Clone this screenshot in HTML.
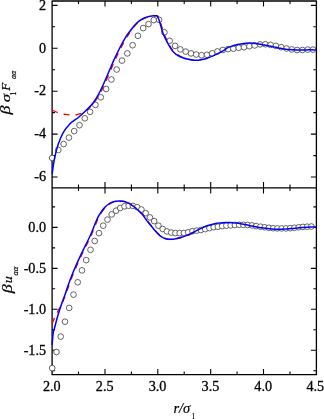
<!DOCTYPE html>
<html><head><meta charset="utf-8"><title>plot</title>
<style>html,body{margin:0;padding:0;background:#fff}svg{display:block}</style></head>
<body>
<svg width="324" height="419" viewBox="0 0 324 419">
<rect width="324" height="419" fill="#fff"/>
<path d="M52.1 1.0 H316.4M52.1 187.8 H316.4M52.1 374.6 H316.4M52.1 0.4 V375.2M316.4 0.4 V375.2" stroke="#000" stroke-width="1.3" fill="none"/>
<path d="M78.5 1.0 v3.0M78.5 184.6 v6.4M78.5 374.6 v-3.0M105.0 1.0 v5.5M105.0 182.1 v11.4M105.0 374.6 v-5.5M131.4 1.0 v3.0M131.4 184.6 v6.4M131.4 374.6 v-3.0M157.8 1.0 v5.5M157.8 182.1 v11.4M157.8 374.6 v-5.5M184.2 1.0 v3.0M184.2 184.6 v6.4M184.2 374.6 v-3.0M210.7 1.0 v5.5M210.7 182.1 v11.4M210.7 374.6 v-5.5M237.1 1.0 v3.0M237.1 184.6 v6.4M237.1 374.6 v-3.0M263.5 1.0 v5.5M263.5 182.1 v11.4M263.5 374.6 v-5.5M290.0 1.0 v3.0M290.0 184.6 v6.4M290.0 374.6 v-3.0M52.1 5.4 h5.5M316.4 5.4 h-5.5M52.1 26.8 h3.0M316.4 26.8 h-3.0M52.1 48.3 h5.5M316.4 48.3 h-5.5M52.1 69.8 h3.0M316.4 69.8 h-3.0M52.1 91.2 h5.5M316.4 91.2 h-5.5M52.1 112.6 h3.0M316.4 112.6 h-3.0M52.1 134.1 h5.5M316.4 134.1 h-5.5M52.1 155.6 h3.0M316.4 155.6 h-3.0M52.1 177.0 h5.5M316.4 177.0 h-5.5M52.1 206.9 h3.0M316.4 206.9 h-3.0M52.1 227.4 h5.5M316.4 227.4 h-5.5M52.1 247.9 h3.0M316.4 247.9 h-3.0M52.1 268.4 h5.5M316.4 268.4 h-5.5M52.1 288.8 h3.0M316.4 288.8 h-3.0M52.1 309.3 h5.5M316.4 309.3 h-5.5M52.1 329.8 h3.0M316.4 329.8 h-3.0M52.1 350.2 h5.5M316.4 350.2 h-5.5M52.1 370.7 h3.0M316.4 370.7 h-3.0" stroke="#000" stroke-width="1.1" fill="none"/>
<g fill="#fff" stroke="#3a3a3a" stroke-width="0.78">
<circle cx="52.2" cy="158.0" r="2.85"/>
<circle cx="58.3" cy="150.0" r="2.85"/>
<circle cx="63.6" cy="144.0" r="2.85"/>
<circle cx="68.9" cy="137.6" r="2.85"/>
<circle cx="74.2" cy="131.1" r="2.85"/>
<circle cx="79.5" cy="125.2" r="2.85"/>
<circle cx="84.8" cy="118.3" r="2.85"/>
<circle cx="90.1" cy="111.8" r="2.85"/>
<circle cx="95.4" cy="104.9" r="2.85"/>
<circle cx="100.8" cy="97.3" r="2.85"/>
<circle cx="106.1" cy="89.0" r="2.85"/>
<circle cx="111.4" cy="79.5" r="2.85"/>
<circle cx="116.7" cy="69.5" r="2.85"/>
<circle cx="122.0" cy="60.6" r="2.85"/>
<circle cx="127.3" cy="53.4" r="2.85"/>
<circle cx="132.6" cy="45.2" r="2.85"/>
<circle cx="137.9" cy="35.8" r="2.85"/>
<circle cx="143.2" cy="28.1" r="2.85"/>
<circle cx="148.5" cy="24.1" r="2.85"/>
<circle cx="153.8" cy="20.1" r="2.85"/>
<circle cx="159.1" cy="19.8" r="2.85"/>
<circle cx="164.4" cy="32.3" r="2.85"/>
<circle cx="169.7" cy="40.8" r="2.85"/>
<circle cx="175.1" cy="45.9" r="2.85"/>
<circle cx="180.4" cy="49.4" r="2.85"/>
<circle cx="185.7" cy="51.6" r="2.85"/>
<circle cx="191.0" cy="53.4" r="2.85"/>
<circle cx="196.3" cy="54.5" r="2.85"/>
<circle cx="201.6" cy="55.2" r="2.85"/>
<circle cx="206.9" cy="54.8" r="2.85"/>
<circle cx="212.2" cy="53.3" r="2.85"/>
<circle cx="217.5" cy="51.4" r="2.85"/>
<circle cx="222.8" cy="50.0" r="2.85"/>
<circle cx="228.1" cy="49.1" r="2.85"/>
<circle cx="233.4" cy="48.7" r="2.85"/>
<circle cx="238.7" cy="47.8" r="2.85"/>
<circle cx="244.0" cy="47.2" r="2.85"/>
<circle cx="249.4" cy="46.2" r="2.85"/>
<circle cx="254.7" cy="45.4" r="2.85"/>
<circle cx="260.0" cy="44.4" r="2.85"/>
<circle cx="265.3" cy="44.2" r="2.85"/>
<circle cx="270.6" cy="44.9" r="2.85"/>
<circle cx="275.9" cy="45.9" r="2.85"/>
<circle cx="281.2" cy="47.2" r="2.85"/>
<circle cx="286.5" cy="48.5" r="2.85"/>
<circle cx="291.8" cy="49.4" r="2.85"/>
<circle cx="297.1" cy="50.0" r="2.85"/>
<circle cx="302.4" cy="50.0" r="2.85"/>
<circle cx="307.7" cy="49.6" r="2.85"/>
<circle cx="313.0" cy="49.6" r="2.85"/>
<circle cx="52.2" cy="368.1" r="2.85"/>
<circle cx="56.5" cy="352.0" r="2.85"/>
<circle cx="60.7" cy="336.6" r="2.85"/>
<circle cx="65.0" cy="321.7" r="2.85"/>
<circle cx="69.2" cy="307.9" r="2.85"/>
<circle cx="73.5" cy="294.6" r="2.85"/>
<circle cx="77.7" cy="282.3" r="2.85"/>
<circle cx="82.0" cy="270.4" r="2.85"/>
<circle cx="86.2" cy="260.1" r="2.85"/>
<circle cx="90.5" cy="249.8" r="2.85"/>
<circle cx="94.7" cy="241.0" r="2.85"/>
<circle cx="99.0" cy="233.1" r="2.85"/>
<circle cx="103.2" cy="225.7" r="2.85"/>
<circle cx="107.5" cy="219.6" r="2.85"/>
<circle cx="111.7" cy="214.4" r="2.85"/>
<circle cx="116.0" cy="210.7" r="2.85"/>
<circle cx="120.2" cy="208.0" r="2.85"/>
<circle cx="124.5" cy="206.3" r="2.85"/>
<circle cx="128.7" cy="205.7" r="2.85"/>
<circle cx="132.9" cy="205.9" r="2.85"/>
<circle cx="137.2" cy="207.2" r="2.85"/>
<circle cx="141.4" cy="209.5" r="2.85"/>
<circle cx="145.7" cy="213.2" r="2.85"/>
<circle cx="149.9" cy="217.4" r="2.85"/>
<circle cx="154.2" cy="221.1" r="2.85"/>
<circle cx="158.4" cy="225.7" r="2.85"/>
<circle cx="162.7" cy="229.0" r="2.85"/>
<circle cx="166.9" cy="231.4" r="2.85"/>
<circle cx="171.2" cy="232.6" r="2.85"/>
<circle cx="175.4" cy="233.1" r="2.85"/>
<circle cx="179.7" cy="233.1" r="2.85"/>
<circle cx="183.9" cy="233.0" r="2.85"/>
<circle cx="188.2" cy="232.3" r="2.85"/>
<circle cx="192.4" cy="231.2" r="2.85"/>
<circle cx="196.7" cy="230.6" r="2.85"/>
<circle cx="200.9" cy="230.0" r="2.85"/>
<circle cx="205.2" cy="229.1" r="2.85"/>
<circle cx="209.4" cy="228.1" r="2.85"/>
<circle cx="213.7" cy="227.2" r="2.85"/>
<circle cx="217.9" cy="226.7" r="2.85"/>
<circle cx="222.2" cy="226.1" r="2.85"/>
<circle cx="226.4" cy="225.7" r="2.85"/>
<circle cx="230.7" cy="225.4" r="2.85"/>
<circle cx="234.9" cy="225.0" r="2.85"/>
<circle cx="239.2" cy="224.8" r="2.85"/>
<circle cx="243.4" cy="224.8" r="2.85"/>
<circle cx="247.7" cy="225.0" r="2.85"/>
<circle cx="251.9" cy="225.4" r="2.85"/>
<circle cx="256.2" cy="226.1" r="2.85"/>
<circle cx="260.4" cy="226.7" r="2.85"/>
<circle cx="264.7" cy="227.3" r="2.85"/>
<circle cx="268.9" cy="227.8" r="2.85"/>
<circle cx="273.2" cy="228.2" r="2.85"/>
<circle cx="277.4" cy="228.4" r="2.85"/>
<circle cx="281.7" cy="228.4" r="2.85"/>
<circle cx="285.9" cy="228.4" r="2.85"/>
<circle cx="290.2" cy="228.2" r="2.85"/>
<circle cx="294.4" cy="227.8" r="2.85"/>
<circle cx="298.7" cy="227.3" r="2.85"/>
<circle cx="302.9" cy="226.9" r="2.85"/>
<circle cx="307.2" cy="226.7" r="2.85"/>
<circle cx="311.4" cy="226.5" r="2.85"/>
</g>
<g fill="none" stroke-width="1.5" stroke-linejoin="round">
<path d="M52.2 110.2C53.2 110.6 55.8 111.9 58.0 112.6C60.2 113.3 63.0 113.9 65.3 114.3C67.6 114.7 70.0 115.0 72.0 115.0C74.0 115.0 75.4 114.9 77.0 114.6C78.6 114.3 80.0 114.0 81.5 113.4C83.0 112.8 84.5 112.0 86.0 110.8C87.5 109.6 89.1 108.1 90.6 106.5C92.1 104.9 93.5 103.5 95.2 101.2C96.9 98.9 99.2 95.0 100.6 92.5C102.0 90.0 102.7 88.1 103.7 86.0C104.7 83.9 105.5 82.1 106.4 80.0C107.3 77.9 108.3 75.5 109.3 73.2C110.3 70.9 111.3 68.5 112.3 66.2C113.3 63.9 114.4 61.4 115.4 59.1C116.5 56.8 117.5 54.6 118.6 52.5C119.7 50.4 120.7 48.2 121.8 46.2C122.9 44.2 124.0 42.0 125.0 40.2C126.0 38.4 127.0 36.8 128.0 35.3C128.9 33.8 129.5 32.9 130.7 31.2C131.9 29.5 133.7 26.9 135.3 25.2C136.8 23.5 138.4 22.1 140.0 20.9C141.6 19.7 143.1 18.9 144.6 18.2C146.1 17.5 147.7 17.0 149.2 16.6C150.7 16.2 152.5 16.0 153.8 15.8C155.1 15.7 156.1 15.5 156.9 15.7C157.7 15.9 158.0 16.1 158.5 17.0C159.0 17.9 159.5 19.3 160.0 20.8C160.5 22.3 161.0 24.3 161.6 26.2C162.2 28.1 162.7 30.4 163.4 32.4C164.1 34.4 165.0 36.3 166.0 38.4C167.0 40.5 168.2 42.9 169.4 45.0C170.6 47.1 171.9 49.4 173.1 50.9C174.3 52.4 175.6 53.4 176.8 54.3C178.0 55.2 179.3 55.9 180.5 56.5C181.7 57.1 183.0 57.6 184.2 58.0C185.4 58.4 186.7 58.8 187.9 59.1C189.1 59.4 190.4 59.6 191.6 59.8C192.8 60.0 194.1 60.1 195.3 60.2C196.5 60.3 198.4 60.2 199.0 60.2" stroke="#f00" stroke-width="1.35" stroke-dasharray="6 6"/>
<path d="M52.1 323.5C52.5 322.6 53.6 320.0 54.5 318.1C55.4 316.2 56.7 313.7 57.6 311.9C58.5 310.1 59.2 308.9 60.1 307.2C61.0 305.5 61.9 303.5 62.8 301.5C63.7 299.5 64.7 297.2 65.6 295.0C66.5 292.8 66.7 291.7 68.0 288.0C69.3 284.3 71.7 277.6 73.6 273.0C75.5 268.4 77.4 264.1 79.2 260.1C81.0 256.1 83.0 252.0 84.6 248.8C86.1 245.6 87.3 243.6 88.5 241.0C89.7 238.4 90.8 236.2 92.0 233.5C93.2 230.8 94.5 227.2 95.6 224.5C96.7 221.8 97.5 219.6 98.6 217.4C99.7 215.2 100.9 213.2 102.1 211.5C103.3 209.8 104.5 208.5 105.7 207.3C106.9 206.1 108.1 205.0 109.3 204.2C110.5 203.4 111.6 202.8 112.8 202.3C114.0 201.8 115.1 201.6 116.3 201.4C117.5 201.2 118.6 201.2 119.8 201.2C121.0 201.2 122.2 201.2 123.5 201.4C124.8 201.6 126.0 202.1 127.3 202.6C128.6 203.1 129.8 203.7 131.1 204.5C132.4 205.3 133.6 206.2 134.9 207.2C136.2 208.2 137.5 209.3 138.7 210.4C139.9 211.5 141.2 212.8 142.3 214.0C143.3 215.2 144.2 216.2 145.0 217.3C145.8 218.4 146.4 219.4 147.4 220.8C148.4 222.1 149.9 223.9 151.2 225.4C152.4 226.9 153.7 228.6 154.9 230.0C156.1 231.4 157.4 232.9 158.6 234.1C159.8 235.3 161.0 236.2 162.2 237.0C163.4 237.8 164.5 238.3 165.7 238.7C166.8 239.1 167.9 239.3 169.1 239.4C170.2 239.5 171.4 239.6 172.6 239.5C173.8 239.4 175.1 239.1 176.3 238.9C177.5 238.6 178.8 238.3 180.0 238.0C181.2 237.7 182.4 237.3 183.7 236.9C184.9 236.5 186.2 236.1 187.5 235.6C188.8 235.1 190.0 234.4 191.2 233.8C192.4 233.2 193.7 232.6 194.9 232.0C196.1 231.4 198.0 230.4 198.6 230.1" stroke="#f00" stroke-width="1.35" stroke-dasharray="6 6"/>
<path d="M52.1 174.0C52.5 171.4 53.5 163.7 54.5 158.7C55.5 153.7 56.8 148.3 58.3 144.0C59.8 139.7 61.3 135.9 63.2 132.6C65.1 129.3 67.1 126.7 69.8 124.0C72.5 121.3 76.1 119.4 79.2 116.7C82.3 114.0 86.0 110.5 88.5 108.0C91.0 105.5 92.2 104.3 94.0 101.7C95.8 99.1 98.1 95.1 99.5 92.5C100.9 89.9 101.6 88.1 102.6 86.0C103.6 83.9 104.4 82.1 105.3 80.0C106.2 77.9 107.2 75.5 108.2 73.2C109.2 70.9 110.2 68.5 111.2 66.2C112.2 63.9 113.2 61.4 114.3 59.1C115.3 56.8 116.4 54.6 117.5 52.5C118.6 50.4 119.6 48.2 120.7 46.2C121.8 44.2 122.9 42.1 123.9 40.2C125.0 38.3 126.0 36.5 127.0 35.0C128.0 33.5 128.7 32.8 130.0 31.2C131.3 29.6 133.0 26.9 134.6 25.2C136.2 23.5 137.8 22.1 139.3 20.9C140.9 19.7 142.4 18.9 143.9 18.2C145.4 17.5 147.0 17.0 148.5 16.6C150.0 16.2 151.8 16.0 153.1 15.8C154.4 15.7 155.4 15.5 156.2 15.7C157.0 15.9 157.3 16.1 157.8 17.0C158.3 17.9 158.8 19.3 159.3 20.8C159.8 22.3 160.3 24.3 160.9 26.2C161.5 28.1 162.0 30.4 162.7 32.4C163.4 34.4 164.3 36.3 165.3 38.4C166.3 40.5 167.5 42.9 168.7 45.0C169.9 47.1 171.2 49.4 172.4 50.9C173.6 52.4 174.9 53.4 176.1 54.3C177.3 55.2 178.6 55.9 179.8 56.5C181.0 57.1 182.3 57.6 183.5 58.0C184.7 58.4 186.0 58.8 187.2 59.1C188.4 59.4 189.7 59.6 190.9 59.8C192.1 60.0 193.4 60.1 194.6 60.2C195.8 60.3 197.1 60.3 198.3 60.2C199.5 60.1 200.8 59.9 202.0 59.6C203.2 59.4 204.5 59.1 205.7 58.7C206.9 58.3 208.2 57.9 209.4 57.4C210.6 56.9 211.8 56.4 213.1 55.9C214.3 55.4 215.7 54.7 216.9 54.1C218.2 53.5 219.4 52.9 220.6 52.2C221.8 51.5 223.2 50.8 224.3 50.1C225.4 49.4 226.3 48.5 227.4 47.9C228.5 47.3 229.9 46.8 231.1 46.4C232.3 46.0 233.6 45.6 234.8 45.2C236.0 44.9 237.3 44.5 238.5 44.3C239.7 44.0 241.0 43.9 242.2 43.7C243.4 43.5 244.7 43.4 245.9 43.3C247.1 43.2 248.4 43.1 249.6 43.1C250.8 43.1 252.1 43.2 253.3 43.3C254.5 43.4 255.8 43.5 257.0 43.7C258.2 43.9 259.5 44.1 260.7 44.3C261.9 44.5 263.2 44.8 264.4 45.0C265.6 45.2 266.9 45.5 268.1 45.7C269.3 46.0 270.4 46.2 271.6 46.5C272.8 46.8 274.1 47.0 275.3 47.2C276.5 47.5 277.6 47.8 278.8 48.0C280.0 48.2 281.3 48.5 282.5 48.7C283.7 48.9 285.0 49.1 286.2 49.3C287.4 49.4 288.7 49.5 289.9 49.6C291.1 49.7 292.4 49.7 293.6 49.8C294.8 49.9 296.1 50.0 297.3 50.0C298.5 50.0 299.8 50.0 301.0 50.0C302.2 50.0 303.5 50.0 304.7 50.0C305.9 50.0 307.2 49.8 308.4 49.8C309.6 49.8 310.8 49.8 312.1 49.8C313.4 49.8 315.5 50.0 316.2 50.0" stroke="#00f"/>
<path d="M52.1 345.0C52.3 343.0 52.8 335.9 53.2 333.2C53.6 330.4 53.6 331.4 54.4 328.5C55.2 325.6 56.6 319.8 57.8 315.8C59.0 311.8 60.2 308.0 61.4 304.5C62.6 301.0 63.9 297.8 64.9 295.0C65.9 292.2 65.9 291.7 67.2 288.0C68.5 284.3 70.9 277.6 72.8 273.0C74.7 268.4 76.6 264.1 78.4 260.1C80.2 256.1 82.2 252.0 83.8 248.8C85.3 245.6 86.5 243.6 87.7 241.0C88.9 238.4 90.0 236.2 91.2 233.5C92.4 230.8 93.7 227.2 94.8 224.5C95.9 221.8 96.8 219.6 97.9 217.4C99.0 215.2 100.3 213.2 101.5 211.5C102.7 209.8 103.9 208.3 105.1 207.1C106.3 205.8 107.5 204.8 108.7 204.0C109.9 203.2 111.0 202.6 112.2 202.1C113.4 201.6 114.5 201.4 115.7 201.2C116.9 201.0 118.0 201.0 119.2 201.0C120.4 201.0 121.7 201.0 122.9 201.2C124.2 201.4 125.4 201.9 126.7 202.4C128.0 202.9 129.2 203.5 130.5 204.3C131.8 205.1 133.0 206.0 134.3 207.0C135.6 208.0 136.9 209.1 138.1 210.2C139.3 211.3 140.6 212.7 141.7 213.8C142.8 215.0 143.6 216.0 144.4 217.1C145.2 218.2 145.8 219.2 146.8 220.6C147.8 221.9 149.3 223.7 150.6 225.2C151.8 226.7 153.1 228.4 154.3 229.8C155.5 231.2 156.8 232.7 158.0 233.9C159.2 235.1 160.4 236.0 161.6 236.8C162.8 237.6 163.9 238.1 165.1 238.5C166.2 238.9 167.3 239.1 168.5 239.2C169.7 239.3 170.8 239.4 172.0 239.3C173.2 239.2 174.5 238.9 175.7 238.7C176.9 238.4 178.2 238.1 179.4 237.8C180.6 237.5 181.8 237.1 183.1 236.7C184.3 236.3 185.7 235.9 186.9 235.4C188.2 234.9 189.4 234.2 190.6 233.6C191.8 233.0 193.1 232.4 194.3 231.8C195.5 231.2 196.7 230.6 198.0 229.9C199.3 229.2 200.9 228.5 202.3 227.8C203.7 227.2 205.2 226.5 206.6 226.0C208.0 225.5 209.5 225.1 210.9 224.7C212.3 224.3 213.5 224.0 214.8 223.7C216.1 223.4 217.3 223.2 218.5 223.1C219.7 222.9 221.0 222.9 222.2 222.8C223.4 222.7 224.7 222.6 225.9 222.6C227.1 222.6 228.4 222.6 229.6 222.6C230.8 222.6 232.1 222.7 233.3 222.8C234.5 222.9 235.8 222.9 237.0 223.1C238.2 223.2 239.5 223.5 240.7 223.7C241.9 223.9 243.2 224.2 244.4 224.4C245.6 224.7 246.8 224.9 248.1 225.2C249.3 225.5 250.7 225.8 251.9 226.1C253.2 226.4 254.4 226.6 255.6 226.8C256.8 227.0 258.0 227.2 259.3 227.4C260.6 227.6 262.1 227.8 263.5 228.0C264.9 228.2 266.4 228.4 267.8 228.6C269.2 228.8 270.6 228.9 272.0 229.0C273.4 229.1 274.9 229.2 276.3 229.3C277.7 229.4 279.1 229.4 280.5 229.3C281.9 229.2 283.4 229.1 284.8 229.0C286.2 228.9 287.6 228.9 289.0 228.8C290.4 228.7 291.9 228.5 293.3 228.4C294.7 228.3 296.2 228.1 297.6 228.0C299.0 227.9 300.4 227.7 301.8 227.6C303.2 227.5 304.7 227.4 306.1 227.3C307.5 227.2 308.6 227.1 310.3 227.1C312.0 227.1 315.2 227.1 316.2 227.1" stroke="#00f"/>
</g>
<g font-family="'Liberation Serif',serif" font-size="14.2" fill="#000" stroke="#000" stroke-width="0.3">
<text x="46.1" y="9.6" text-anchor="end">2</text>
<text x="46.1" y="52.5" text-anchor="end">0</text>
<text x="46.1" y="95.4" text-anchor="end">-2</text>
<text x="46.1" y="138.3" text-anchor="end">-4</text>
<text x="46.1" y="181.2" text-anchor="end">-6</text>
<text x="46.1" y="231.7" text-anchor="end">0.0</text>
<text x="46.1" y="272.7" text-anchor="end">-0.5</text>
<text x="46.1" y="313.6" text-anchor="end">-1.0</text>
<text x="46.1" y="354.6" text-anchor="end">-1.5</text>
<text x="51.8" y="391.4" text-anchor="middle">2.0</text>
<text x="104.7" y="391.4" text-anchor="middle">2.5</text>
<text x="157.5" y="391.4" text-anchor="middle">3.0</text>
<text x="210.4" y="391.4" text-anchor="middle">3.5</text>
<text x="263.2" y="391.4" text-anchor="middle">4.0</text>
<text x="315.3" y="391.4" text-anchor="middle">4.5</text>
</g>
<g font-family="'Liberation Serif',serif" font-style="italic" fill="#000" stroke="#000" stroke-width="0.2">
<text x="173.4" y="413.4" font-size="14.5">r/σ<tspan font-style="normal" font-size="8.5" stroke="none" dx="1" dy="5.8">1</tspan></text>
<text transform="translate(9.7 114.5) rotate(-90) scale(1.30 1)" font-size="14">β</text>
<text transform="translate(9.7 102.3) rotate(-90) scale(1.30 1)" font-size="13">σ</text>
<text transform="translate(15.8 95.6) rotate(-90) scale(1.00 1)" font-size="8" font-style="normal">1</text>
<text transform="translate(9.7 90.8) rotate(-90) scale(1.04 1)" font-size="12.5">F</text>
<text transform="translate(15.5 79.0) rotate(-90) scale(1.00 1)" font-size="8">aα</text>
<text transform="translate(11.5 293.2) rotate(-90) scale(1.30 1)" font-size="14">β</text>
<text transform="translate(11.5 283.2) rotate(-90) scale(1.14 1)" font-size="12.5">u</text>
<text transform="translate(17.5 275.6) rotate(-90) scale(1.08 1)" font-size="8">aα</text>
</g>
</svg>
</body></html>
